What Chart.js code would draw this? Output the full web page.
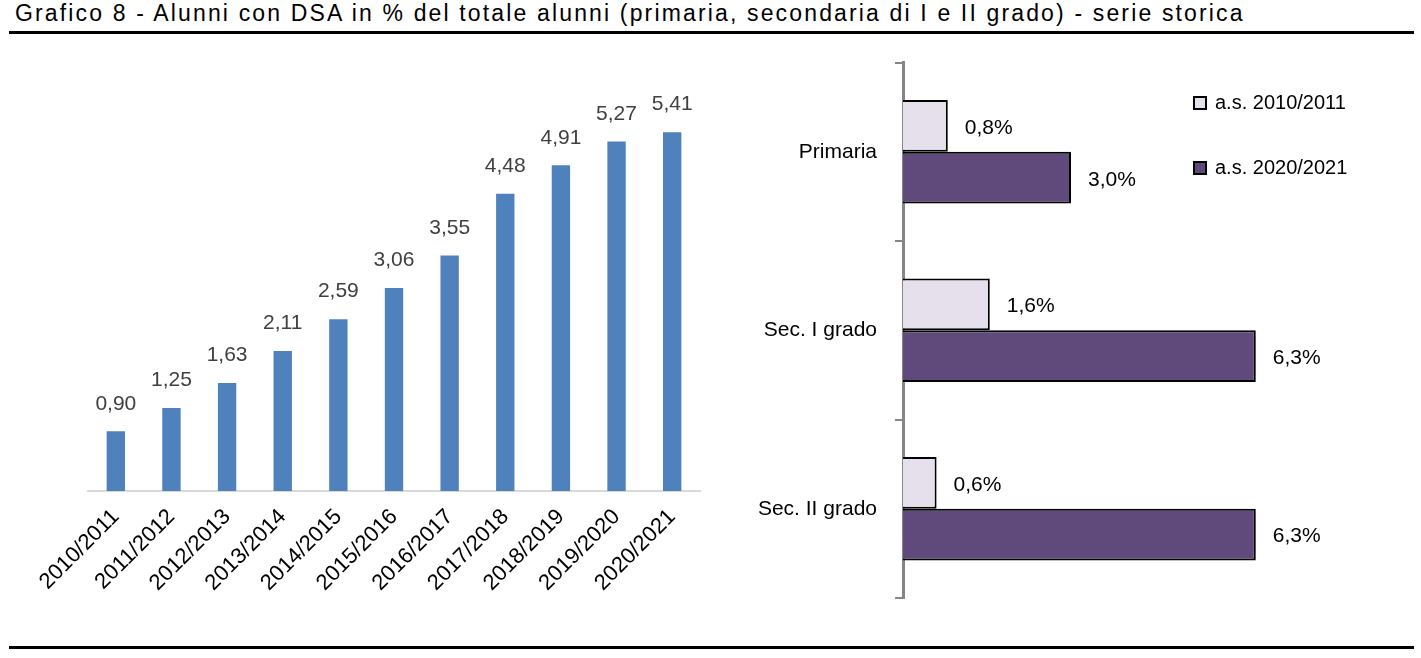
<!DOCTYPE html>
<html>
<head>
<meta charset="utf-8">
<script src="https://cdn.jsdelivr.net/npm/chart.js@4"></script>
<style>
  body { margin: 0; background: #fff; width: 1421px; height: 658px; position: relative; overflow: hidden;
         font-family: "Liberation Sans", Arial, sans-serif; }
  #title { position: absolute; left: 15px; top: 0px; font-size: 23px; letter-spacing: 2.15px; color: #000; white-space: nowrap; }
  .rule { position: absolute; left: 9px; width: 1405px; height: 3px; background: #000; }
  #leftWrap { position: absolute; left: 0; top: 40px; width: 720px; height: 600px; }
  #rightWrap { position: absolute; left: 720px; top: 32px; width: 701px; height: 600px; }
  .legend { position: absolute; left: 1193px; font-size: 20px; color: #000; display: flex; align-items: center; }
  .legend span.box { width: 10px; height: 10px; border: 2px solid #000; margin-right: 8px; }
</style>
</head>
<body>
<div id="title">Grafico 8 - Alunni con DSA in % del totale alunni (primaria, secondaria di I e II grado) - serie storica</div>
<div class="rule" style="top:31px"></div>
<div class="rule" style="top:646px"></div>
<div id="leftWrap"><canvas id="trendChart"></canvas></div>
<div id="rightWrap"><canvas id="levelChart"></canvas></div>
<div class="legend" id="leg0" style="top:91px"><span class="box"></span><span class="txt"></span></div>
<div class="legend" id="leg1" style="top:156px"><span class="box"></span><span class="txt"></span></div>

<script>
// Serie storica: alunni con DSA in % del totale
const years = ['2010/2011', '2011/2012', '2012/2013', '2013/2014', '2014/2015', '2015/2016',
               '2016/2017', '2017/2018', '2018/2019', '2019/2020', '2020/2021'];
const dsaShare = [0.90, 1.25, 1.63, 2.11, 2.59, 3.06, 3.55, 4.48, 4.91, 5.27, 5.41];

// Confronto per ordine di scuola
const levels = ['Primaria', 'Sec. I grado', 'Sec. II grado'];
const seriesNames = ['a.s. 2010/2011', 'a.s. 2020/2021'];
const share2010 = [0.8, 1.55, 0.6];
const share2020 = [3.0, 6.3, 6.3];
const shownPct2010 = ['0,8%', '1,6%', '0,6%'];
const shownPct2020 = ['3,0%', '6,3%', '6,3%'];

const FONT = '"Liberation Sans", Arial, sans-serif';

// draws the value labels next to each bar
const valueLabels = {
    id: 'valueLabels',
    afterDatasetsDraw(chart, args, opts) {
        const ctx = chart.ctx;
        ctx.save();
        ctx.font = opts.font;
        ctx.fillStyle = opts.color;
        chart.data.datasets.forEach((ds, i) => {
            const meta = chart.getDatasetMeta(i);
            meta.data.forEach((bar, j) => {
                const txt = opts.format(ds.data[j], i, j);
                if (chart.options.indexAxis === 'y') {
                    ctx.textAlign = 'left';
                    ctx.textBaseline = 'middle';
                    ctx.fillText(txt, bar.x + opts.offset, bar.y + 2);
                } else {
                    ctx.textAlign = 'center';
                    ctx.textBaseline = 'bottom';
                    ctx.fillText(txt, bar.x, bar.y - opts.offset);
                }
            });
        });
        ctx.restore();
    }
};

const itNum = (v, d) => v.toFixed(d).replace('.', ',');

document.addEventListener('DOMContentLoaded', function() {
    Chart.defaults.font.family = FONT;
    Chart.defaults.animation = false;

    new Chart(document.getElementById('trendChart').getContext('2d'), {
        type: 'bar',
        data: {
            labels: years,
            datasets: [{
                data: dsaShare,
                backgroundColor: '#4F81BD',
                borderWidth: 0,
                categoryPercentage: 0.33,
                barPercentage: 1
            }]
        },
        options: {
            responsive: true,
            maintainAspectRatio: false,
            layout: { padding: { left: 88, right: 20, top: 53, bottom: 0 } },
            plugins: {
                legend: { display: false },
                tooltip: { enabled: false },
                valueLabels: { font: '21px ' + FONT, color: '#404040', offset: 17, format: v => itNum(v, 2) }
            },
            scales: {
                y: { display: false, min: 0, max: 6 },
                x: {
                    grid: { display: false },
                    border: { color: '#D9D9D9', width: 2 },
                    ticks: { color: '#000', font: { size: 22 }, minRotation: 45, maxRotation: 45, padding: 5 },
                    afterFit(scale) { scale.height = 149; }
                }
            }
        },
        plugins: [valueLabels]
    });

    const pctLabels = [shownPct2010, shownPct2020];
    new Chart(document.getElementById('levelChart').getContext('2d'), {
        type: 'bar',
        data: {
            labels: levels,
            datasets: [
                { label: seriesNames[0], data: share2010, backgroundColor: '#E6E0EC', borderColor: '#000', borderWidth: 2 },
                { label: seriesNames[1], data: share2020, backgroundColor: '#604A7B', borderColor: '#000', borderWidth: 2 }
            ]
        },
        options: {
            indexAxis: 'y',
            responsive: true,
            maintainAspectRatio: false,
            datasets: { bar: { categoryPercentage: 0.58, barPercentage: 1 } },
            layout: { padding: { left: 0, right: 126, top: 0, bottom: 34 } },
            plugins: {
                legend: { display: false },
                tooltip: { enabled: false },
                valueLabels: { font: '21px ' + FONT, color: '#000', offset: 17, format: (v, i, j) => pctLabels[i][j] }
            },
            scales: {
                x: { display: false, min: 0, max: 7 },
                y: {
                    grid: { drawOnChartArea: false, drawTicks: true, tickLength: 8, color: '#868686', lineWidth: 2 },
                    border: { color: '#868686', width: 3 },
                    ticks: { color: '#000', font: { size: 21 }, padding: 18 },
                    afterFit(scale) { scale.width = 183; }
                }
            }
        },
        plugins: [valueLabels]
    });

    // legend boxes
    [['#E6E0EC', seriesNames[0]], ['#604A7B', seriesNames[1]]].forEach(([c, t], i) => {
        const el = document.getElementById('leg' + i);
        el.querySelector('.box').style.background = c;
        el.querySelector('.txt').textContent = t;
    });
});
</script>
</body>
</html>
